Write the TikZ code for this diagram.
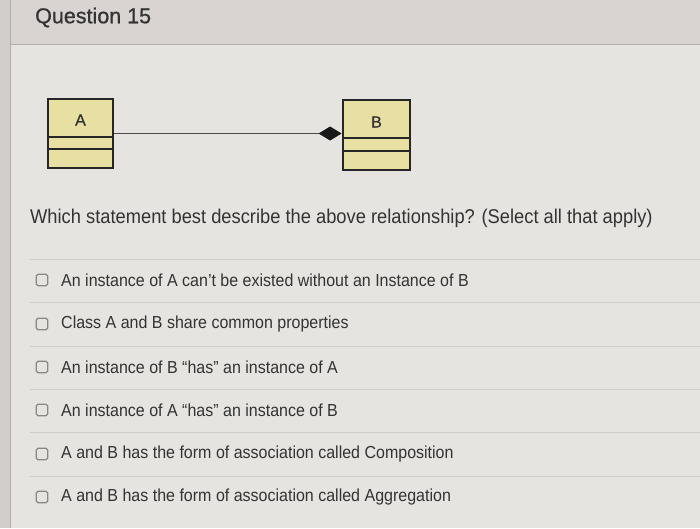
\documentclass[tikz,border=0pt]{standalone}
\usepackage{fontspec}
\setmainfont{Liberation Sans}
\newfontfamily\optfont[FakeStretch=0.92]{Liberation Sans}
\newfontfamily\titlefont[FakeBold=0.9]{Liberation Sans}
\usetikzlibrary{arrows.meta,shapes.geometric}
\definecolor{bgmain}{HTML}{E6E4E0}
\definecolor{bghead}{HTML}{D9D4D1}
\definecolor{stripe}{HTML}{D2CECB}
\definecolor{edge}{HTML}{B3AEAB}
\definecolor{sepcol}{HTML}{D2CECA}
\definecolor{classfill}{HTML}{E8E0A3}
\definecolor{ink}{HTML}{333333}
\definecolor{boxgrey}{HTML}{8A8784}
\tikzset{
  classbox/.style={draw=black!85,line width=2.8pt,fill=classfill,minimum width=#1,inner sep=0pt},
  optext/.style={anchor=west,inner sep=0pt,text=ink,font=\optfont\fontsize{17.4}{20}\selectfont},
  chk/.style={draw=boxgrey,line width=1.3pt,rounded corners=1.8pt,minimum width=11.5pt,minimum height=11.5pt,inner sep=0pt},
  sep/.style={draw=sepcol,line width=0.8pt},
  classlab/.style={font=\titlefont\fontsize{16}{18}\selectfont,text=ink},
}
\begin{document}
\begin{tikzpicture}[x=1pt,y=-1pt]
\useasboundingbox (0,0) rectangle (700,528);
\fill[bgmain] (0,0) rectangle (700,528);
\fill[bghead] (0,0) rectangle (700,44);
\fill[stripe] (0,0) rectangle (10,528);
\draw[edge,line width=1pt] (10.5,0) -- (10.5,528);
\draw[edge,line width=1pt] (10.5,44) -- (700,44);
\node[anchor=west,inner sep=0pt,text=ink,font=\titlefont\fontsize{21.5}{24}\selectfont] (title) at (35,17.5) {Question 15};
% class boxes
\node[classbox=65pt,minimum height=69pt] (A) at (80.5,133.5) {};
\draw[black!85,line width=1.7pt] (48,137) -- (113,137) (48,149) -- (113,149);
\node[classlab] (Alab) at (80.5,120) {A};
\node[classbox=67pt,minimum height=70pt] (B) at (376.5,135) {};
\draw[black!85,line width=1.7pt] (343,138) -- (410,138) (343,151) -- (410,151);
\node[classlab] (Blab) at (376.5,122) {B};
\draw[black!70,line width=0.9pt,-{Diamond[length=23pt,width=14pt,fill=black!90,color=black!90]}] (A.east) -- (A.east -| B.west);
% question
\node[anchor=west,inner sep=0pt,text=ink,font=\optfont\fontsize{19.9}{22}\selectfont] (q) at (30,218) {Which statement best describe the above relationship? (Select all that apply)};
\foreach \y in {259,302,346,389,432,476} \draw[sep] (30,\y) -- (700,\y);
\foreach \y/\t [count=\i] in {
  280/{An instance of A can’t be existed without an Instance of B},
  324/{Class A and B share common properties},
  367/{An instance of B “has” an instance of A},
  410/{An instance of A “has” an instance of B},
  454/{A and B has the form of association called Composition},
  497/{A and B has the form of association called Aggregation}} {
  \node[chk] (c\i) at (42,\y) {};
  \node[optext] (o\i) at (61,\y) {\t};
}
\end{tikzpicture}
\end{document}
